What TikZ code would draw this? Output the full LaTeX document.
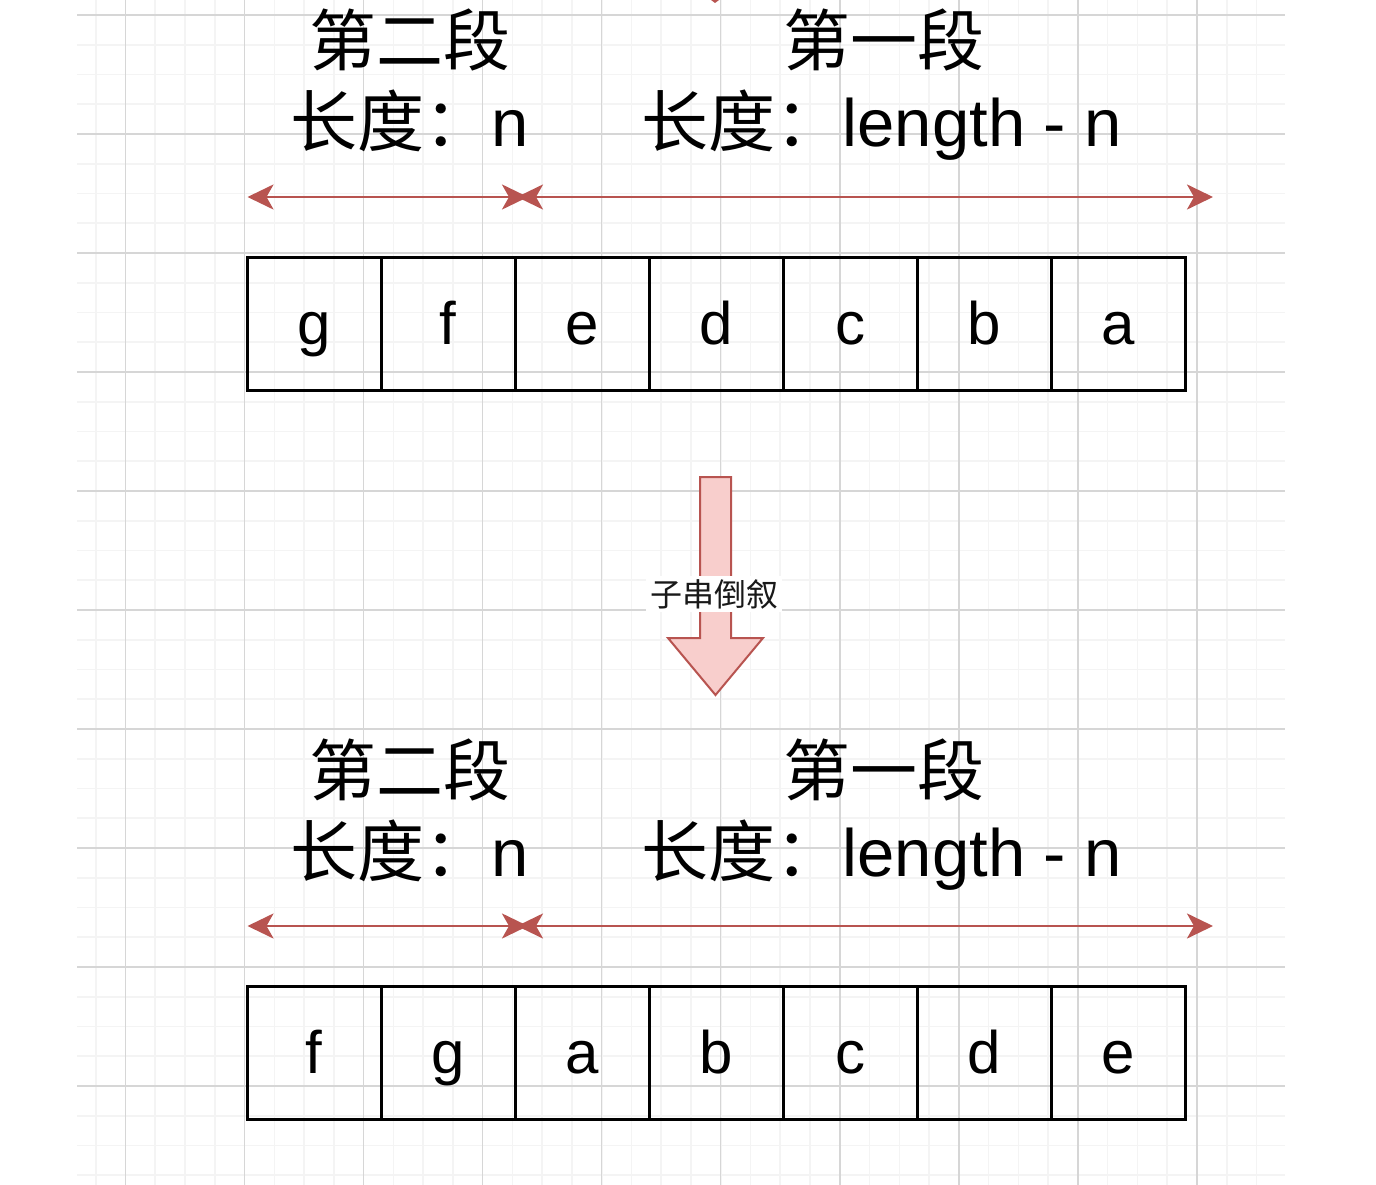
\documentclass[tikz,border=0pt]{standalone}
\usepackage{fontspec}
\setmainfont{Liberation Sans}
\newfontfamily\cjk{Noto Sans CJK SC}
\usetikzlibrary{arrows.meta}
\definecolor{redline}{HTML}{B85450}
\definecolor{redfill}{HTML}{F8CECC}
\definecolor{gridminor}{RGB}{244,244,244}
\definecolor{gridmajor}{RGB}{214,214,214}
\tikzset{
  minorline/.style={draw=gridminor, line width=1.6pt},
  majorline/.style={draw=gridmajor, line width=1.4pt},
  cellbox/.style={draw=black, line width=3pt, minimum width=134pt, minimum height=133pt,
    inner sep=0pt, text height=54.3pt, text depth=12.7pt,
    font=\fontsize{60}{72}\selectfont},
  headtext/.style={anchor=base, inner sep=0pt, font=\fontsize{67}{80}\selectfont},
  spanarrow/.style={draw=redline, line width=2.8pt,
    arrows={Stealth[length=26pt,width=25pt,inset=7pt,fill=redline]-Stealth[length=26pt,width=25pt,inset=7pt,fill=redline]}},
  blockarrow/.style={draw=redline, fill=redfill, line width=2pt, line join=miter},
  arrowlabel/.style={fill=white, inner xsep=4pt, inner ysep=3pt, text=black!90,
    font=\fontsize{32}{38}\selectfont\cjk}
}
\begin{document}
\begin{tikzpicture}[x=1pt, y=-1pt]
\useasboundingbox (0,0) rectangle (1376,1185);
\fill[white] (0,0) rectangle (1376,1185);
% grid
\foreach \k in {-1,...,38} {
  \pgfmathsetmacro\xx{125.5+29.7625*\k}
  \draw[minorline] (\xx,0) -- (\xx,1185);
}
\foreach \k in {0,...,39} {
  \pgfmathsetmacro\yy{15+29.75*\k}
  \draw[minorline] (77,\yy) -- (1285,\yy);
}
\foreach \k in {0,...,9} {
  \pgfmathsetmacro\xx{125.5+119.05*\k}
  \draw[majorline] (\xx,0) -- (\xx,1185);
}
\foreach \k in {0,...,9} {
  \pgfmathsetmacro\yy{15+119*\k}
  \draw[majorline] (77,\yy) -- (1285,\yy);
}
% small cut-off tip at top
\fill[redline] (711,0) -- (719,0) -- (715,3) -- cycle;

% ---------- top half ----------
\node[headtext] (t2a) at (410,66) {\cjk 第二段};
\node[headtext] (t2b) at (410,147) {{\cjk 长度：}n};
\node[headtext] (t1a) at (884,66) {\cjk 第一段};
\node[headtext] (t1b) at (882,147) {{\cjk 长度：}length - n};
\coordinate (ta1) at (247.5,197);
\coordinate (ta2) at (528,197);
\coordinate (tb1) at (517,197);
\coordinate (tb2) at (1213,197);
\draw[spanarrow] (ta1) -- (ta2);
\draw[spanarrow] (tb1) -- (tb2);
\foreach \l [count=\i] in {g,f,e,d,c,b,a} {
  \node[cellbox] (t\i) at ({314+134*(\i-1)},323.5) {\l};
}

% ---------- block arrow ----------
\draw[blockarrow] (700,477) -- (731,477) -- (731,638) -- (763,638) -- (715.5,695)
  -- (668,638) -- (700,638) -- cycle;
\node[arrowlabel] (lab) at (714,594) {子串倒叙};

% ---------- bottom half ----------
\node[headtext] (b2a) at (410,795) {\cjk 第二段};
\node[headtext] (b2b) at (410,876) {{\cjk 长度：}n};
\node[headtext] (b1a) at (884,795) {\cjk 第一段};
\node[headtext] (b1b) at (882,876) {{\cjk 长度：}length - n};
\coordinate (ba1) at (247.5,926);
\coordinate (ba2) at (528,926);
\coordinate (bb1) at (517,926);
\coordinate (bb2) at (1213,926);
\draw[spanarrow] (ba1) -- (ba2);
\draw[spanarrow] (bb1) -- (bb2);
\foreach \l [count=\i] in {f,g,a,b,c,d,e} {
  \node[cellbox] (b\i) at ({314+134*(\i-1)},1052.5) {\l};
}
\end{tikzpicture}
\end{document}
